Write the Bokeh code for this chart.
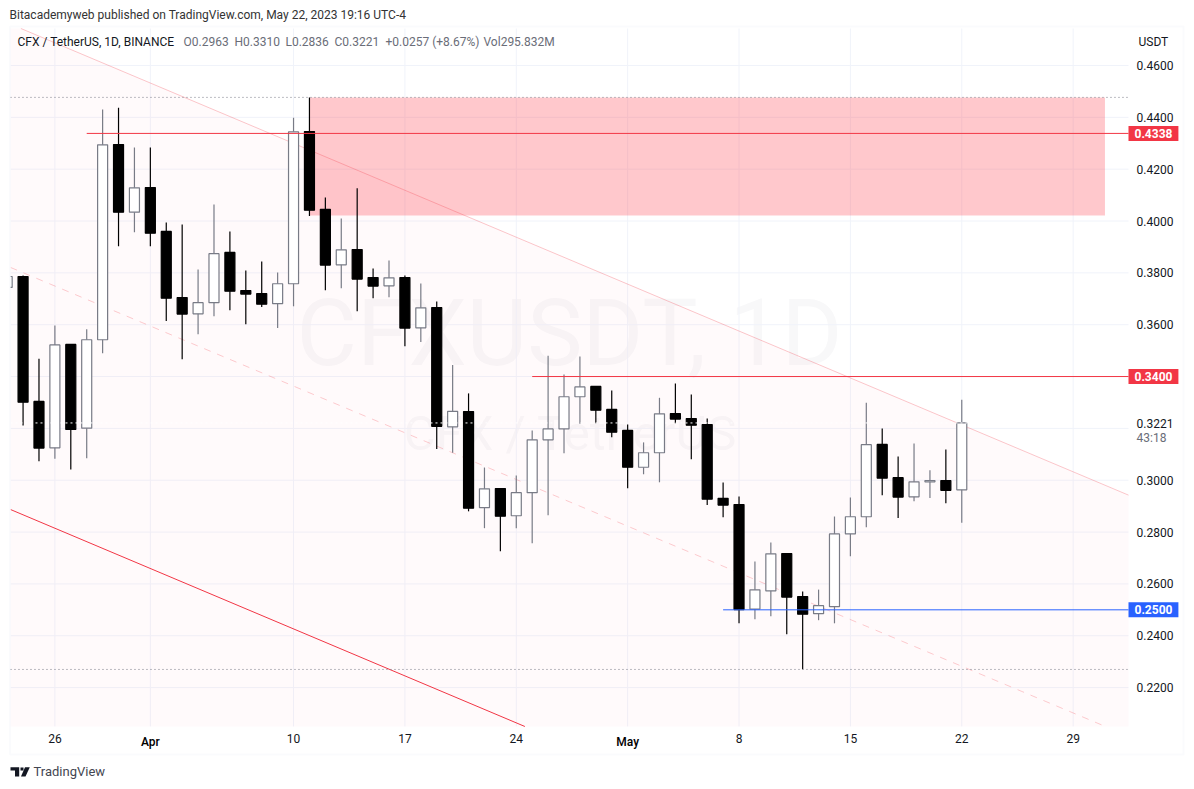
from bokeh.plotting import figure
from bokeh.models import (BoxAnnotation, ColumnDataSource, FixedTicker, Label,
                          NumeralTickFormatter, PolyAnnotation)
from bokeh.embed import file_html
from bokeh.resources import INLINE

# days counted from Mar 26 2023, one candle per day
days = list(range(-3, 58))
opens = [.3744,.3786,.3304,.3125,.3524,.3201,.3542,.4295,.4034,.4129,.3960,.3705,.3642,.3685,.3879,.3732,.3720,.3681,.3758,.4345,
         .4045,.3831,.3890,.3782,.3750,.3782,.3588,.3666,.3206,.3265,.2894,.2968,.2863,.2952,.3156,.3198,.3322,.3362,.3273,.3192,
         .3050,.3106,.3257,.3238,.3215,.2930,.2906,.2503,.2573,.2717,.2551,.2485,.2512,.2793,.2859,.3138,.3010,.2936,.2994,.2999,.2963]
highs = [.3810,.3790,.3469,.3597,.3524,.3582,.4430,.4437,.4284,.4284,.3994,.3987,.3813,.4064,.3960,.3809,.3844,.3801,.4398,.4477,
         .4091,.4010,.4126,.3817,.3848,.3790,.3759,.3690,.3445,.3335,.3049,.2968,.3018,.3192,.3480,.3408,.3477,.3362,.3346,.3215,
         .3146,.3318,.3373,.3331,.3238,.2991,.2937,.2686,.2760,.2717,.2571,.2578,.2860,.2933,.3299,.3200,.3092,.3142,.3038,.3119,.3310]
lows = [.3700,.3211,.3073,.3083,.3041,.3085,.3490,.3903,.3957,.3903,.3614,.3467,.3563,.3633,.3656,.3602,.3668,.3587,.3671,.4019,
        .3733,.3741,.3652,.3702,.3706,.3517,.3533,.3120,.3106,.2880,.2815,.2726,.2815,.2757,.2865,.3104,.3218,.3220,.3166,.2969,
        .3023,.2992,.3220,.3081,.2904,.2857,.2448,.2464,.2475,.2406,.2271,.2460,.2448,.2707,.2819,.2942,.2854,.2919,.2931,.2911,.2836]
closes = [.3786,.3301,.3124,.3522,.3196,.3542,.4294,.4034,.4128,.3953,.3702,.3641,.3685,.3874,.3729,.3718,.3679,.3758,.4344,.4042,
          .3830,.3889,.3776,.3749,.3781,.3587,.3665,.3208,.3266,.2892,.2967,.2861,.2952,.3156,.3198,.3322,.3360,.3270,.3185,.3050,
          .3106,.3256,.3236,.3212,.2927,.2904,.2501,.2577,.2716,.2549,.2483,.2516,.2793,.2859,.3137,.3008,.2935,.2994,.2999,.2961,.3221]

price_ticks = [.46, .44, .42, .40, .38, .36, .30, .28, .26, .24, .22]
grid_ticks = [.46, .44, .42, .40, .38, .36, .34, .32, .30, .28, .26, .24, .22]
date_ticks = [0, 6, 15, 22, 29, 36, 43, 50, 57, 64]
date_labels = ["26", "", "10", "17", "24", "", "8", "15", "22", "29"]
month_ticks = [6, 36]
month_labels = ["Apr", "May"]

# edges of the chart pane, the frame itself takes the whole page
pane_x = [-2.79, 67.48]
pane_y = [.20499, .47428]

channel_x = [-2.79, -2.135, 67.48]
channel_top = [.47428, .47428, .29425]
middle_x = [-2.79, 66.03]
middle_y = [.3821, .20499]
lower_x = [-2.79, 29.54]
lower_y = [.2887, .20499]

zone_days = [16, 66]
zone_prices = [.4021, .4477]
range_high = .4477
range_low = .2270
last_price = .3221
level_prices = [.4338, .3400, .2500]
level_start = [2, 30, 42]
level_names = ["0.4338", "0.3400", "0.2500"]
level_colors = ["#f23645", "#f23645", "#2962ff"]

FONT = "Roboto"
TEXT = "#131722"
GRAY = "#787b86"

p = figure(width=1194, height=789, output_backend="svg", toolbar_location=None, tools="",
           x_range=(-3.4185, 71.628), y_range=(.18068, .48508), y_axis_location="right",
           min_border_left=0, min_border_right=0, min_border_top=0, min_border_bottom=0)
p.outline_line_color = None
p.grid.grid_line_color = None

p.xaxis.ticker = FixedTicker(ticks=date_ticks)
p.xaxis.major_label_overrides = dict(zip(date_ticks, date_labels))
p.xaxis.fixed_location = pane_y[0]
p.yaxis.ticker = FixedTicker(ticks=price_ticks)
p.yaxis.formatter = NumeralTickFormatter(format="0.0000")
p.yaxis.fixed_location = pane_x[1]
for ax in [p.xaxis, p.yaxis]:
    ax.axis_line_color = None
    ax.major_tick_line_color = None
    ax.minor_tick_line_color = None
    ax.major_label_text_font = FONT
    ax.major_label_text_font_size = "12px"
    ax.major_label_text_color = TEXT
p.xaxis.major_label_standoff = 2
p.yaxis.major_label_standoff = 2

# grid
p.segment(date_ticks, pane_y[0], date_ticks, pane_y[1], line_color="#f0f3fa", line_width=1)
p.segment(pane_x[0], grid_ticks, pane_x[1], grid_ticks, line_color="#f0f3fa", line_width=1)

# watermark
p.add_layout(Label(x=569, y=333, x_units="canvas", y_units="canvas", text="CFXUSDT, 1D", text_font=FONT, text_font_size="93px",
                   text_color="#2a2e39", text_alpha=.03, text_align="center", text_baseline="middle", level="underlay"))
p.add_layout(Label(x=570, y=433, x_units="canvas", y_units="canvas", text="CFX / TetherUS", text_font=FONT, text_font_size="49px",
                   text_color="#2a2e39", text_alpha=.03, text_align="center", text_baseline="middle", level="underlay"))

# channel
p.varea(x=channel_x, y1=pane_y[0], y2=channel_top, fill_color="#f23645", fill_alpha=.025)
p.quad(left=zone_days[0], right=zone_days[1], bottom=zone_prices[0], top=zone_prices[1],
       fill_color="#ff3344", fill_alpha=.27, line_color=None)
p.line(channel_x[1:], channel_top[1:], line_color="#f23645", line_alpha=.28, line_width=1)
p.line(middle_x, middle_y, line_color="#f23645", line_alpha=.25, line_width=1, line_dash=[7, 7])
p.line(lower_x, lower_y, line_color="#f23645", line_width=1)

# candles
up = [c >= o for o, c in zip(opens, closes)]
src = ColumnDataSource(dict(day=days, o=opens, h=highs, l=lows, c=closes,
                            top=[max(o, c) for o, c in zip(opens, closes)],
                            bottom=[min(o, c) for o, c in zip(opens, closes)],
                            fill=["white" if u else "black" for u in up],
                            edge=[GRAY if u else "black" for u in up]))
p.segment("day", "h", "day", "l", source=src, line_color="edge", line_width=1.2)
p.vbar(x="day", top="top", bottom="bottom", width=.63, source=src,
       fill_color="fill", line_color="edge", line_width=1.2)

# the first candle runs off the left edge of the pane
p.quad(left=-3.4185, right=pane_x[0], bottom=pane_y[0], top=pane_y[1], fill_color="white", line_color=None)

# high / low / last price lines
for v in [range_high, range_low]:
    p.line(pane_x, [v, v], line_color=GRAY, line_width=1, line_dash=[1, 3])
p.line(pane_x, [last_price, last_price], line_color="white", line_width=1, line_dash=[2, 3])

for v, start, color in zip(level_prices, level_start, level_colors):
    p.line([start, pane_x[1]], [v, v], line_color=color, line_width=1)

# frame around chart and scales
p.add_layout(BoxAnnotation(left=9.5, right=1183, top=26, bottom=754,
                           left_units="canvas", right_units="canvas", top_units="canvas", bottom_units="canvas",
                           fill_alpha=0, line_color="#f0f3fa", line_width=2))


def text(x, y, s, size="12px", color=TEXT, **kw):
    p.add_layout(Label(x=x, y=y, x_units="canvas", y_units="canvas", text=s, text_font=FONT, text_font_size=size,
                       text_color=color, text_baseline="middle", **kw))


# price tags
for v, name, color in zip(level_prices, level_names, level_colors):
    p.add_layout(Label(x=1128, y=v, x_units="canvas", y_units="data", text=name, text_font=FONT, text_font_size="12px",
                       text_font_style="bold", text_color="white", text_baseline="middle",
                       background_fill_color=color, padding=(6, 3)))

for day, name in zip(month_ticks, month_labels):
    p.add_layout(Label(x=day, y=741, x_units="data", y_units="canvas", text=name, text_font="Roboto Medium, Roboto",
                       text_font_size="12px", text_color="#000000", text_align="center", text_baseline="middle"))

text(9, 14, "Bitacademyweb published on TradingView.com, May 22, 2023 19:16 UTC-4", "12px", "#333333")
text(17, 41, "CFX / TetherUS, 1D, BINANCE", "12px", TEXT)
for x, s in [(183, "O0.2963"), (234, "H0.3310"), (285, "L0.2836"), (334, "C0.3221"),
             (385, "+0.0257 (+8.67%)"), (483, "Vol295.832M")]:
    text(x, 41, s, "12px", "#6a6d78")
text(1138, 41, "USDT", "12px", TEXT)
text(1136, 423, "0.3221", "12px", TEXT)
text(1136, 437, "43:18", "12px", "#6a6d78")
text(33, 771, "TradingView", "13px", "#434651")

# logo
for xs, ys in [([10, 18.7, 18.7, 14.5, 14.5, 10], [766.7, 766.7, 776, 776, 770, 770]),
               ([24.5, 29.3, 25, 20.5], [766.7, 766.7, 776, 776]),
               ([20, 23, 23, 20], [767, 767, 770, 770])]:
    p.add_layout(PolyAnnotation(xs=xs, ys=ys, xs_units="canvas", ys_units="canvas",
                                fill_color="#131722", fill_alpha=1, line_color=None))

open("out.html", "w").write(file_html(p, INLINE))
